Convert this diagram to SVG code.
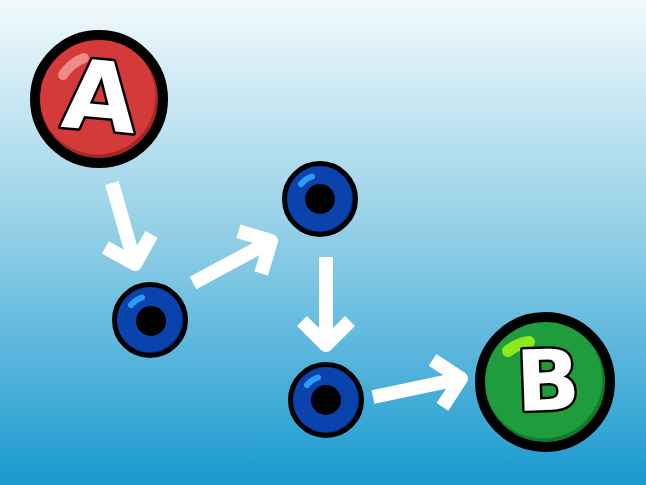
<svg xmlns="http://www.w3.org/2000/svg" width="646" height="485" viewBox="0 0 646 485">
<defs>
<linearGradient id="bg" x1="0" y1="0" x2="0" y2="1">
<stop offset="0" stop-color="#f2fafc"/>
<stop offset="0.5" stop-color="#8ecde6"/>
<stop offset="1" stop-color="#1a9ad0"/>
</linearGradient>
<marker id="head" markerUnits="userSpaceOnUse" markerWidth="80" markerHeight="80" refX="0" refY="0" orient="auto" overflow="visible">
<path d="M-24,-24 L0,0 L-24,24" fill="none" stroke="#ffffff" stroke-width="14" stroke-linejoin="round" stroke-linecap="butt"/>
</marker>
</defs>
<style>
.arrow{fill:none;stroke:#ffffff;stroke-width:14;stroke-linecap:butt;marker-end:url(#head)}
.ring{fill:none;stroke:#000000}
.big{stroke-width:10}
.small{stroke-width:5}
.hl{fill:none;stroke-linecap:round}
.blue-dark{fill:#06307c}
.blue{fill:#0a43ae}
.dot{fill:#000000}
.letter{font-family:"DejaVu Sans","Liberation Sans",sans-serif;font-weight:bold;fill:#ffffff;stroke:#000000;stroke-width:5;stroke-linejoin:round;paint-order:stroke;text-anchor:middle}
</style>
<rect x="0" y="0" width="646" height="485" fill="url(#bg)"/>
<g id="connectors">
<path class="arrow" d="M112,183 L135,264"/>
<path class="arrow" d="M193,283 L271,241"/>
<path class="arrow" d="M326,257 L326,345"/>
<path class="arrow" d="M373,397 L461,378.5"/>
</g>
<g id="nodeA">
<circle cx="99" cy="99" r="64" fill="#a52626"/>
<circle cx="97.5" cy="96.5" r="58" fill="#d43a3a"/>
<circle class="ring big" cx="99" cy="99" r="64"/>
<path class="hl" d="M63,75 A44,44 0 0 1 84,58" stroke="#f08a8a" stroke-width="10"/>
<text class="letter" x="100" y="130" font-size="96" transform="rotate(5 100 95)">A</text>
</g>
<g id="node1">
<circle cx="150" cy="320" r="35.5" class="blue-dark"/>
<circle cx="149" cy="319" r="33" class="blue"/>
<circle class="ring small" cx="150" cy="320" r="35.5"/>
<path class="hl" d="M131,305 A24.5,24.5 0 0 1 142,297.5" stroke="#2a9df4" stroke-width="6"/>
<circle class="dot" cx="151" cy="321" r="15"/>
</g>
<g id="node2">
<circle cx="320" cy="199" r="35.5" class="blue-dark"/>
<circle cx="319" cy="198" r="33" class="blue"/>
<circle class="ring small" cx="320" cy="199" r="35.5"/>
<path class="hl" d="M301,184 A24.5,24.5 0 0 1 312,176.5" stroke="#2a9df4" stroke-width="6"/>
<circle class="dot" cx="320" cy="199" r="15"/>
</g>
<g id="node3">
<circle cx="326" cy="400" r="35.5" class="blue-dark"/>
<circle cx="325" cy="399" r="33" class="blue"/>
<circle class="ring small" cx="326" cy="400" r="35.5"/>
<path class="hl" d="M307,385 A24.5,24.5 0 0 1 318,377.5" stroke="#2a9df4" stroke-width="6"/>
<circle class="dot" cx="326" cy="400" r="15"/>
</g>
<g id="nodeB">
<circle cx="545" cy="382" r="65" fill="#13782a"/>
<circle cx="543.5" cy="379.5" r="59" fill="#1f9c3c"/>
<circle class="ring big" cx="545" cy="382" r="65"/>
<path class="hl" d="M508,351 A46,46 0 0 1 529,342" stroke="#8ee81a" stroke-width="12"/>
<text class="letter" x="548" y="410" font-size="84" transform="rotate(-2 548 380)">B</text>
</g>
</svg>
